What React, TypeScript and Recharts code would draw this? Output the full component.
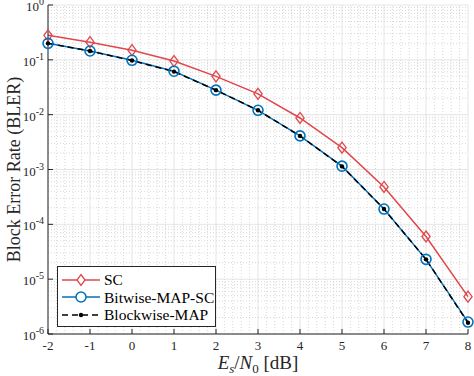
import React from 'react';
import { LineChart, Line, XAxis, YAxis, CartesianGrid, ReferenceLine, Label } from 'recharts';

const snr = [-2, -1, 0, 1, 2, 3, 4, 5, 6, 7, 8];
const scBler = [0.28, 0.21, 0.15, 0.095, 0.05, 0.024, 0.0087, 0.0025, 4.8e-4, 6e-5, 4.8e-6];
const bitwiseBler = [0.2, 0.145, 0.098, 0.062, 0.028, 0.012, 0.0041, 0.00115, 1.9e-4, 2.3e-5, 1.65e-6];
const blockwiseBler = [0.2, 0.145, 0.097, 0.061, 0.028, 0.012, 0.0041, 0.00114, 1.9e-4, 2.3e-5, 1.6e-6];

const xTicks = [-2, -1, 0, 1, 2, 3, 4, 5, 6, 7, 8];
const yTicks = [1e-6, 1e-5, 1e-4, 1e-3, 1e-2, 1e-1, 1];
const yExponents = [-6, -5, -4, -3, -2, -1, 0];

const data = snr.map((s, i) => ({
    snr: s,
    sc: scBler[i],
    bitwise: bitwiseBler[i],
    blockwise: blockwiseBler[i],
}));

// minor grid positions (matlab style)
const yMinor: number[] = [];
yExponents.slice(0, -1).forEach(e => {
    for (let m = 2; m <= 9; m++) yMinor.push(m * Math.pow(10, e));
});
const xMinor: number[] = [];
xTicks.slice(0, -1).forEach(t => {
    for (let k = 1; k <= 4; k++) xMinor.push(+(t + k * 0.2).toFixed(1));
});

const RED = '#e0474c';
const BLUE = '#0072bd';
const FONT = '"Liberation Serif", "DejaVu Serif", serif';

const YTick = (props: any) => {
    const { x, y, payload } = props;
    const exp = Math.round(Math.log10(payload.value));
    return (
        <text x={x} y={y + 6} textAnchor="end" fontFamily={FONT} fontSize={13} fill="#262626">
            10<tspan dy={-6} fontSize={10}>{exp}</tspan>
        </text>
    );
};

const XLabel = (props: any) => {
    const { viewBox } = props;
    const cx = viewBox.x + viewBox.width / 2;
    return (
        <text x={cx} y={viewBox.y + 35} textAnchor="middle" fontFamily={FONT} fontSize={19} fill="#262626">
            <tspan fontStyle="italic">E</tspan>
            <tspan fontStyle="italic" fontSize={13} dy={4}>s</tspan>
            <tspan dy={-4}>/</tspan>
            <tspan fontStyle="italic">N</tspan>
            <tspan fontSize={13} dy={4}>0</tspan>
            <tspan dy={-4}> [dB]</tspan>
        </text>
    );
};

const YLabel = (props: any) => {
    const { viewBox } = props;
    const cy = viewBox.y + viewBox.height / 2;
    return (
        <text x={14} y={cy} transform={`rotate(-90, 14, ${cy})`} textAnchor="middle" dominantBaseline="central"
            fontFamily={FONT} fontSize={18} fill="#262626">
            Block Error Rate (BLER)
        </text>
    );
};

const Diamond = (props: any) => {
    const { cx, cy } = props;
    if (cx == null || cy == null) return null;
    const r = 5.5;
    return <path d={`M${cx},${cy - r}L${cx + r * 0.75},${cy}L${cx},${cy + r}L${cx - r * 0.75},${cy}Z`} fill="none" stroke={RED} strokeWidth={1.3} />;
};

const legendItems = [
    { name: 'SC', kind: 'sc' },
    { name: 'Bitwise-MAP-SC', kind: 'bitwise' },
    { name: 'Blockwise-MAP', kind: 'blockwise' },
];

const LegendBox = () => (
    <div style={{ position: 'absolute', left: 57, top: 266, width: 159, height: 61, boxSizing: 'border-box', border: '1px solid #262626', background: '#fff', padding: '4px 0 0 3px', fontFamily: FONT, fontSize: 15.5, color: '#000', whiteSpace: 'nowrap' }}>
        {legendItems.map(item => (
            <div key={item.kind} style={{ display: 'flex', alignItems: 'center', height: 17.5, lineHeight: '17px' }}>
                <svg width={40} height={14} style={{ marginRight: 3, flex: 'none' }}>
                    {item.kind === 'sc' && (
                        <>
                            <line x1={1} y1={7} x2={39} y2={7} stroke={RED} strokeWidth={1.5} />
                            <path d="M20,1.5L24,7L20,12.5L16,7Z" fill="#fff" stroke={RED} strokeWidth={1.3} />
                        </>
                    )}
                    {item.kind === 'bitwise' && (
                        <>
                            <line x1={1} y1={7} x2={39} y2={7} stroke={BLUE} strokeWidth={1.5} />
                            <circle cx={20} cy={7} r={5} fill="#fff" stroke={BLUE} strokeWidth={1.5} />
                        </>
                    )}
                    {item.kind === 'blockwise' && (
                        <>
                            <line x1={1} y1={7} x2={39} y2={7} stroke="#000" strokeWidth={1.5} strokeDasharray="6 4" />
                            <circle cx={20} cy={7} r={2.2} fill="#000" />
                        </>
                    )}
                </svg>
                <span>{item.name}</span>
            </div>
        ))}
    </div>
);

export default function App() {
    return (
        <div style={{ position: 'absolute', left: 0, top: 0, width: 474, height: 376, background: '#fff' }}>
            <LineChart width={474} height={376} data={data} margin={{ top: 5, right: 6, left: 0, bottom: 0 }}>
                {xMinor.map(v => (
                    <ReferenceLine key={'xm' + v} x={v} xAxisId="bottom" yAxisId="left" stroke="#d8d8d8" strokeDasharray="1 2" />
                ))}
                {yMinor.map(v => (
                    <ReferenceLine key={'ym' + v} y={v} xAxisId="bottom" yAxisId="left" stroke="#d8d8d8" strokeDasharray="1 2" />
                ))}
                <CartesianGrid xAxisId="bottom" yAxisId="left" stroke="#dedede" strokeWidth={0.8} />
                <XAxis xAxisId="bottom" dataKey="snr" type="number" domain={[-2, 8]} ticks={xTicks} interval={0}
                    height={42} tickSize={-5} tickMargin={12} stroke="#262626"
                    tick={{ fontFamily: FONT, fontSize: 13, fill: '#262626' }}
                    label={<Label content={XLabel} />} />
                <XAxis xAxisId="top" orientation="top" dataKey="snr" type="number" domain={[-2, 8]} ticks={xTicks}
                    height={0} tickSize={-5} tickFormatter={() => ''} stroke="#262626" />
                <YAxis yAxisId="left" scale="log" domain={[1e-6, 1]} ticks={yTicks} allowDataOverflow interval={0}
                    width={48} tickSize={-5} tickMargin={9} stroke="#262626" tick={<YTick />}
                    label={<Label content={YLabel} />} />
                <YAxis yAxisId="right" orientation="right" scale="log" domain={[1e-6, 1]} ticks={yTicks} allowDataOverflow
                    width={0} tickSize={-5} tickFormatter={() => ''} stroke="#262626" />
                <Line xAxisId="bottom" yAxisId="left" dataKey="sc" type="linear" stroke={RED} strokeWidth={1.5}
                    dot={<Diamond />} isAnimationActive={false} />
                <Line xAxisId="bottom" yAxisId="left" dataKey="bitwise" type="linear" stroke={BLUE} strokeWidth={1.5}
                    dot={{ r: 5, fill: 'none', stroke: BLUE, strokeWidth: 1.6 }} isAnimationActive={false} />
                <Line xAxisId="bottom" yAxisId="left" dataKey="blockwise" type="linear" stroke="#000" strokeWidth={1.5}
                    strokeDasharray="6 4" dot={{ r: 2.2, fill: '#000', stroke: 'none' }} isAnimationActive={false} />
            </LineChart>
            <LegendBox />
        </div>
    );
}
